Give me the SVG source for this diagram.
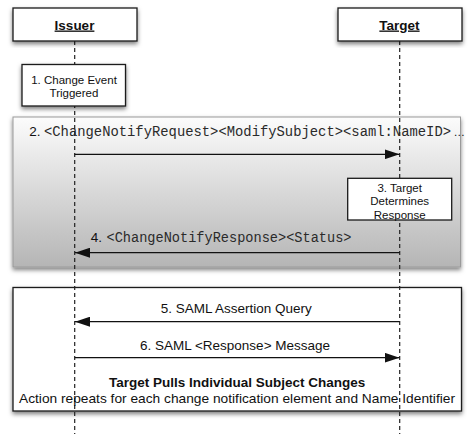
<svg xmlns="http://www.w3.org/2000/svg" width="474" height="434" viewBox="0 0 474 434">
<defs>
<style>
.box{fill:#fff;stroke:#1a1a1a;stroke-width:1.3}
.sans{font-family:"Liberation Sans",Arial,sans-serif;fill:#111}
.mono{font-family:"Liberation Mono","Courier New",monospace;fill:#2a2a2a}
.life{stroke:#222;stroke-width:1.2;stroke-dasharray:4 3;fill:none}
.msg{stroke:#111;stroke-width:1.2;fill:none}
</style>
<filter id="sh" x="-10%" y="-10%" width="120%" height="130%">
<feDropShadow dx="0" dy="2.5" stdDeviation="2" flood-color="#000" flood-opacity="0.5"/>
</filter>
<linearGradient id="g" x1="0" y1="0" x2="0" y2="1">
<stop offset="0" stop-color="#fcfcfc"/>
<stop offset="1" stop-color="#b5b5b5"/>
</linearGradient>
<marker id="ah" viewBox="0 0 15 10" refX="15" refY="5" markerWidth="15" markerHeight="10" markerUnits="userSpaceOnUse" orient="auto">
<path d="M0,0 L15,5 L0,10 Z" fill="#111"/>
</marker>
</defs>
<rect width="474" height="434" fill="#fff"/>

<g id="frame-notify">
<rect x="13" y="117" width="447.5" height="150" fill="url(#g)" stroke="#9a9a9a" stroke-width="1" filter="url(#sh)"/>
</g>
<g id="frame-pull">
<rect x="13" y="287.5" width="448.5" height="123.5" class="box" filter="url(#sh)"/>
</g>

<g id="connectors">
<line x1="74.7" y1="41" x2="74.7" y2="434" class="life"/>
<line x1="399.7" y1="41" x2="399.7" y2="434" class="life"/>
<line x1="74.7" y1="154.3" x2="399.5" y2="154.3" class="msg" marker-end="url(#ah)"/>
<line x1="399.7" y1="252.7" x2="75" y2="252.7" class="msg" marker-end="url(#ah)"/>
<line x1="399.7" y1="321.7" x2="75" y2="321.7" class="msg" marker-end="url(#ah)"/>
<line x1="74.7" y1="357.7" x2="399.5" y2="357.7" class="msg" marker-end="url(#ah)"/>
</g>

<g id="issuer">
<rect x="13" y="8" width="124" height="33" class="box" filter="url(#sh)"/>
<text x="74.5" y="29.5" class="sans" font-size="13.5" font-weight="bold" text-anchor="middle" text-decoration="underline">Issuer</text>
</g>
<g id="target">
<rect x="338" y="8" width="124" height="33" class="box" filter="url(#sh)"/>
<text x="399.5" y="29.5" class="sans" font-size="13.5" font-weight="bold" text-anchor="middle" text-decoration="underline">Target</text>
</g>

<g id="step1">
<rect x="22" y="64.5" width="103.5" height="41.5" class="box" filter="url(#sh)"/>
<text x="74" y="83.5" class="sans" font-size="11.5" text-anchor="middle">1. Change Event</text>
<text x="74" y="97" class="sans" font-size="11.5" text-anchor="middle">Triggered</text>
</g>

<g id="step3">
<rect x="347.7" y="178.3" width="104" height="41.7" class="box"/>
<text x="399.7" y="191.5" class="sans" font-size="11.5" text-anchor="middle">3. Target</text>
<text x="399.7" y="205" class="sans" font-size="11.5" text-anchor="middle">Determines</text>
<text x="399.7" y="218.5" class="sans" font-size="11.5" text-anchor="middle">Response</text>
</g>

<g id="labels">
<text x="29.3" y="136" font-size="14"><tspan class="sans" font-size="13.5">2.</tspan><tspan class="mono" x="44" textLength="407" lengthAdjust="spacingAndGlyphs">&lt;ChangeNotifyRequest&gt;&lt;ModifySubject&gt;&lt;saml:NameID&gt;</tspan><tspan class="sans" x="453.5" font-size="11.5">…</tspan></text>
<text x="90.7" y="241.5" font-size="14"><tspan class="sans" font-size="13.5">4.</tspan><tspan class="mono" x="106.5" textLength="245" lengthAdjust="spacingAndGlyphs">&lt;ChangeNotifyResponse&gt;&lt;Status&gt;</tspan></text>
<text x="236.3" y="313.3" class="sans" font-size="13.5" text-anchor="middle">5. SAML Assertion Query</text>
<text x="235" y="350" class="sans" font-size="13.5" text-anchor="middle">6. SAML &lt;Response&gt; Message</text>
<text x="237.2" y="386.5" class="sans" font-size="13.5" font-weight="bold" text-anchor="middle">Target Pulls Individual Subject Changes</text>
<text x="237" y="403.3" class="sans" font-size="13.5" text-anchor="middle" textLength="436" lengthAdjust="spacingAndGlyphs">Action repeats for each change notification element and Name Identifier</text>
</g>
</svg>
